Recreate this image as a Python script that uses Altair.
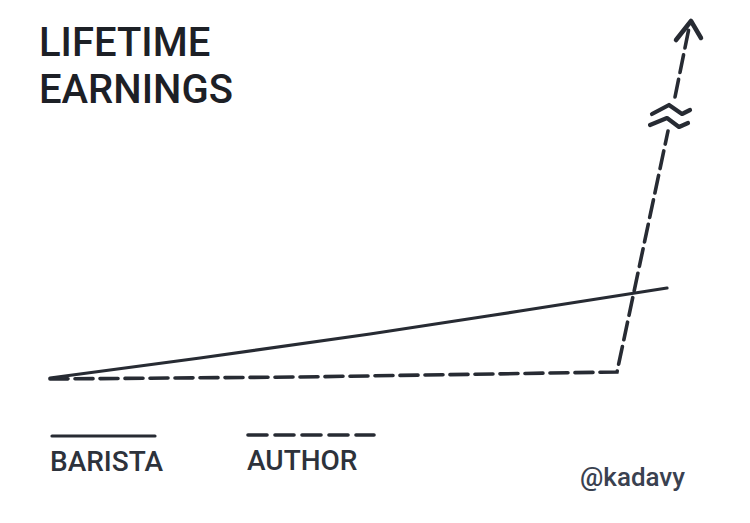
import altair as alt
import pandas as pd

# ---- data (in picture coordinates of the sketch) ----
barista_x = [50, 200, 370, 520, 667]
barista_y = [378, 358, 334, 311, 288]

author_low_x = [50, 300, 617, 668]
author_low_y = [379, 377, 372, 131]
author_high_x = [675, 689]
author_high_y = [97, 28]

arrow_x = [676, 691, 701]
arrow_y = [40, 21, 38]

break1_x = [652, 669, 682, 690]
break1_y = [114, 105, 114, 110]
break2_x = [650, 667, 679, 688]
break2_y = [125, 118, 127, 123]

legend_barista_x = [52, 155]
legend_author_x = [248, 374]
legend_y = 436

title_lines = ["LIFETIME", "EARNINGS"]
title_x = [39, 39]
title_y = [56, 103]

legend_labels = ["BARISTA", "AUTHOR"]
legend_label_x = [50, 247]
legend_label_y = [471, 470]

credit = "@kadavy"
credit_x = 580
credit_y = 486

INK = "#272b33"

xs = alt.Scale(domain=[8, 742], nice=False, zero=False)
ys = alt.Scale(domain=[8, 515], reverse=True, nice=False, zero=False)


def enc(base):
    return base.encode(
        x=alt.X("x:Q", scale=xs, axis=None),
        y=alt.Y("y:Q", scale=ys, axis=None),
    )


barista = pd.DataFrame({"x": barista_x, "y": barista_y, "o": range(len(barista_x))})
author = pd.DataFrame(
    {
        "x": author_low_x + author_high_x,
        "y": author_low_y + author_high_y,
        "seg": ["a"] * len(author_low_x) + ["b"] * len(author_high_x),
        "o": list(range(len(author_low_x) + len(author_high_x))),
    }
)
arrow = pd.DataFrame({"x": arrow_x, "y": arrow_y, "o": range(3)})
brk = pd.DataFrame(
    {
        "x": break1_x + break2_x,
        "y": break1_y + break2_y,
        "seg": ["1"] * 4 + ["2"] * 4,
        "o": list(range(8)),
    }
)
leg_solid = pd.DataFrame({"x": legend_barista_x, "y": [legend_y] * 2})
leg_dash = pd.DataFrame({"x": legend_author_x, "y": [legend_y - 1] * 2})

title_df = pd.DataFrame({"x": title_x, "y": title_y, "t": title_lines})
leg_text = pd.DataFrame({"x": legend_label_x, "y": legend_label_y, "t": legend_labels})
credit_df = pd.DataFrame({"x": [credit_x], "y": [credit_y], "t": [credit]})

l_barista = enc(
    alt.Chart(barista).mark_line(color=INK, strokeWidth=3.2, strokeCap="round", interpolate="monotone")
).encode(order="o:Q")

l_author = enc(
    alt.Chart(author).mark_line(color=INK, strokeWidth=3.6, strokeDash=[18, 7], strokeCap="round")
).encode(detail="seg:N", order="o:Q")

l_arrow = enc(
    alt.Chart(arrow).mark_line(color=INK, strokeWidth=4.5, strokeCap="round", strokeJoin="round")
).encode(order="o:Q")

l_break = enc(
    alt.Chart(brk).mark_line(color=INK, strokeWidth=4.2, strokeCap="round", strokeJoin="round")
).encode(detail="seg:N", order="o:Q")

l_leg1 = enc(alt.Chart(leg_solid).mark_line(color=INK, strokeWidth=3.2, strokeCap="round"))
l_leg2 = enc(
    alt.Chart(leg_dash).mark_line(color=INK, strokeWidth=3.6, strokeDash=[19, 8], strokeCap="round")
)

t_title = enc(
    alt.Chart(title_df).mark_text(
        align="left", baseline="alphabetic", font="Roboto", fontSize=40, fontWeight=500, color="#1d2026"
    )
).encode(text="t:N")

t_leg = enc(
    alt.Chart(leg_text).mark_text(
        align="left", baseline="alphabetic", font="Roboto", fontSize=28, fontWeight=500, color="#2d323b"
    )
).encode(text="t:N")

t_credit = enc(
    alt.Chart(credit_df).mark_text(
        align="left", baseline="alphabetic", font="Roboto", fontSize=26, fontWeight=500, color="#3a4150"
    )
).encode(text="t:N")

chart = (
    alt.layer(l_barista, l_author, l_arrow, l_break, l_leg1, l_leg2, t_title, t_leg, t_credit)
    .properties(width=734, height=507, padding=0, autosize="none", background="white")
    .configure_view(stroke=None)
)

chart.save("out.html", embed_options={"renderer": "svg", "actions": False})
